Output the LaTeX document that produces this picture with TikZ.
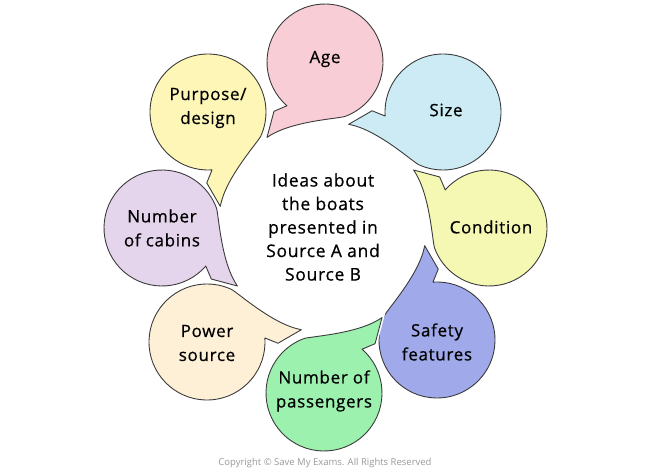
\documentclass[tikz,border=0pt]{standalone}
\usepackage{fontspec}
\setmainfont{Open Sans}
\newfontfamily\bubblefont{Open Sans}[LetterSpace=4, FakeBold=0.6]
\definecolor{bordergray}{HTML}{3C3C3C}
\definecolor{cAge}{HTML}{F8CDD6}
\definecolor{cSize}{HTML}{CDEBF5}
\definecolor{cCond}{HTML}{F4F8B3}
\definecolor{cSafe}{HTML}{A0A9E9}
\definecolor{cPass}{HTML}{9CF1AF}
\definecolor{cPower}{HTML}{FDF0D7}
\definecolor{cCabin}{HTML}{E4D4EC}
\definecolor{cPurp}{HTML}{FDF6B6}
\definecolor{copygray}{HTML}{9A9A9A}
\tikzset{
  bubble/.style={draw=bordergray, line width=0.9pt, line join=round,
    preaction={draw=white, line width=4pt}},
  blabel/.style={font=\bubblefont\fontsize{17}{24}\selectfont, align=center, text=black, inner sep=0pt},
  clabel/.style={font=\bubblefont\fontsize{17.5}{23.5}\selectfont, align=center, text=black, inner sep=0pt},
  copyr/.style={font=\fontsize{9.5}{11}\selectfont, text=copygray, inner sep=0pt},
}
\newcommand{\speechbubble}[3]{%
  \begin{scope}[shift={#1}, rotate=#2, scale=58]
    \path[bubble, fill=#3] (139:1) arc[start angle=139, end angle=-160, radius=1]
      .. controls (-0.98,-0.2) and (-1.02,0.6) .. (-1.30,1.0)
      -- (-0.85,0.88) -- cycle;
  \end{scope}}
\begin{document}
\begin{tikzpicture}[x=1pt,y=1pt]
\useasboundingbox (0,0) rectangle (650,474);
\fill[white] (0,0) rectangle (650,474);
% bubbles
\speechbubble{(325,412)}{90}{cAge}
\speechbubble{(443,362)}{45}{cSize}
\speechbubble{(489,246)}{0}{cCond}
\speechbubble{(437,134)}{-45}{cSafe}
\speechbubble{(324,81)}{-90}{cPass}
\speechbubble{(207,132)}{-135}{cPower}
\speechbubble{(162,246)}{180}{cCabin}
\speechbubble{(208,362)}{135}{cPurp}
% labels
\node[blabel] (nAge) at (325,415) {Age};
\node[blabel] (nSize) at (446,364) {Size};
\node[blabel] (nCond) at (491,247) {Condition};
\node[blabel] (nSafe) at (437,132) {Safety\\features};
\node[blabel] (nPass) at (324,83) {Number of\\passengers};
\node[blabel] (nPower) at (207,131) {Power\\source};
\node[blabel] (nCabin) at (162,246) {Number\\of cabins};
\node[blabel] (nPurp) at (208,366) {Purpose/\\design};
\node[clabel] (nCenter) at (323,247) {Ideas about\\the boats\\presented in\\Source A and\\Source B};
\node[copyr] (nCopy) at (325,11) {Copyright \textcopyright{} Save My Exams. All Rights Reserved};
\end{tikzpicture}
\end{document}
